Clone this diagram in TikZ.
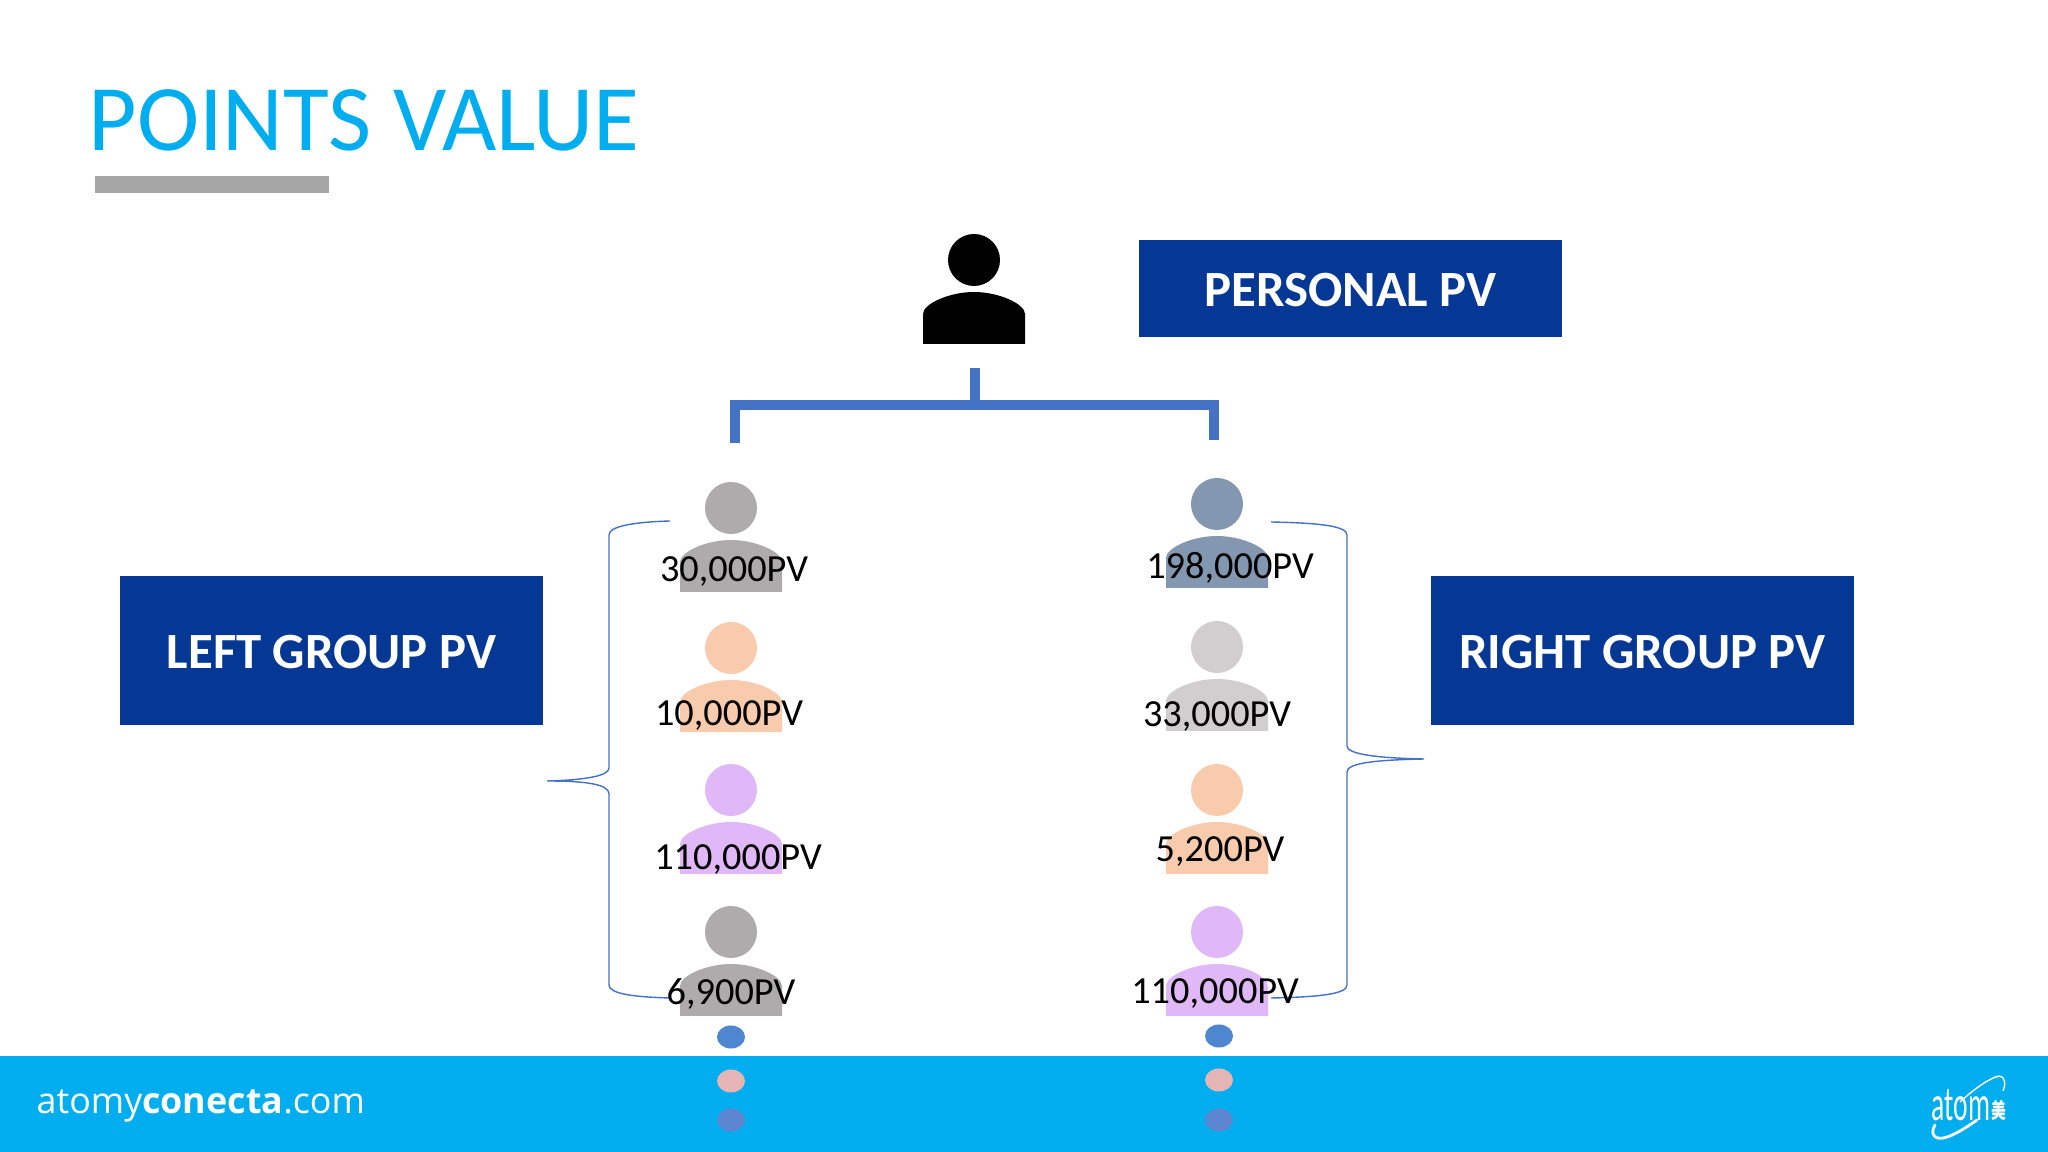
\documentclass[tikz,border=0pt]{standalone}
\usepackage{graphicx}
\usepackage{fontspec}
\setmainfont{Carlito}
\newfontfamily\footfont{Open Sans}
\newfontfamily\cjk{Noto Sans CJK SC}
\definecolor{titleblue}{HTML}{00AEEF}
\definecolor{boxblue}{HTML}{053794}
\definecolor{linkblue}{HTML}{4472C4}
\definecolor{persongrey}{HTML}{ADABAB}
\definecolor{personpeach}{HTML}{F8CBAD}
\definecolor{personlilac}{HTML}{E0B7F7}
\definecolor{personslate}{HTML}{8497B0}
\definecolor{personpale}{HTML}{D0CECE}
\tikzset{
  labelbox/.style={fill=boxblue, text=white, inner sep=0pt, text height=10.5pt, text depth=0pt, font=\fontsize{14.45}{17}\selectfont\bfseries},
  pvlabel/.style={text=black, inner sep=0pt, font=\fontsize{10.9}{13}\selectfont},
  link/.style={draw=linkblue, line width=2.9pt},
  bracket/.style={draw=linkblue, line width=0.4pt},
}
\begin{document}
\begin{tikzpicture}[x=0.1mm, y=-0.1mm]
  \useasboundingbox (0,0) rectangle (2048,1152);
  \fill[white] (0,0) rectangle (2048,1152);

  % Titulo
  \node[anchor=base west, inner sep=0pt, text=titleblue, font=\fontsize{26.7}{30}\selectfont] (title) at (88,151) {POINTS VALUE};
  \fill[black!35] (95,176) rectangle (329,193);

  % Faja inferior
  \fill[titleblue] (0,1056) rectangle (2048,1152);
  \node[anchor=base west, inner sep=0pt, text=white, font=\fontsize{10.2}{12}\footfont] (site) at (36,1113) {atomy\textbf{conecta}.com};

  % Logo
  \node[anchor=base west, inner sep=0pt, text=white, font=\fontsize{14}{16}\selectfont] (logo) at (1931,1120) {\scalebox{0.56}[1]{atom}};
  \node[anchor=base west, inner sep=0pt, text=white, font=\fontsize{6}{7}\cjk\bfseries] (logomei) at (1991,1118) {\scalebox{0.7}[1]{美}};
  \draw[white, line width=0.4pt] (1960,1102) .. controls (1975,1088) and (1990,1078) .. (1999,1076) .. controls (2005,1076) and (2006,1084) .. (2003,1091);
  \draw[white, line width=0.8pt, line cap=round] (1977,1120) .. controls (1960,1132) and (1945,1140) .. (1938,1138) .. controls (1931,1136) and (1932,1130) .. (1935,1125);

  % Cajas
  \node[labelbox, minimum width=42.3mm, minimum height=9.7mm] (personal) at (1350.5,288.5) {PERSONAL PV};
  \node[labelbox, minimum width=42.3mm, minimum height=14.9mm] (leftgroup) at (331.5,650.5) {LEFT GROUP PV};
  \node[labelbox, minimum width=42.3mm, minimum height=14.9mm] (rightgroup) at (1642.5,650.5) {RIGHT GROUP PV};

  % Llaves
  \draw[bracket] (670,521) .. controls (635,522) and (609,526) .. (609,535) -- (609,768) .. controls (609,776) and (585,780) .. (547,781) .. controls (585,781) and (609,784) .. (609,794) -- (609,985) .. controls (609,994) and (635,997) .. (670,998);
  \draw[bracket] (1271,522) .. controls (1320,523) and (1347,526) .. (1347,535) -- (1347,746) .. controls (1347,754) and (1375,758) .. (1424,759) .. controls (1375,760) and (1347,763) .. (1347,772) -- (1347,985) .. controls (1347,994) and (1320,997) .. (1271,998);

  % Personas (x/cabeza/color)
  \foreach \x/\y/\c in {974/260/black, 731/508/persongrey, 731/648/personpeach, 731/790/personlilac, 731/932/persongrey, 1217/504/personslate, 1217/647/personpale, 1217/790/personpeach, 1217/932/personlilac} {
    \fill[\c] (\x,\y) circle [radius=26];
    \fill[\c] (\x-51,\y+84) -- (\x-51,\y+54) .. controls (\x-51,\y+44) and (\x-25,\y+32) .. (\x,\y+32) .. controls (\x+25,\y+32) and (\x+51,\y+44) .. (\x+51,\y+54) -- (\x+51,\y+84) -- cycle;
  }

  % Arbol
  \coordinate (stemtop) at (975,368);
  \coordinate (stemjoin) at (975,405);
  \coordinate (leftdrop) at (735,443);
  \coordinate (rightdrop) at (1214,440);
  \draw[link] (stemtop) -- (stemjoin);
  \draw[link] (leftdrop) |- (stemjoin) -| (rightdrop);

  % Etiquetas PV
  \foreach \name/\x/\y/\t in {a/734/572/{30,000PV}, b/729/716/{10,000PV}, c/738/860/{110,000PV}, d/731/994/{6,900PV}, e/1230/568/{198,000PV}, f/1217/717/{33,000PV}, g/1220/852/{5,200PV}, h/1215/994/{110,000PV}} {
    \node[pvlabel] (pv\name) at (\x,\y) {\t};
  }

  % Puntos
  \foreach \x/\y/\c in {731/1037/4F86D0, 731/1081/E5B4B4, 731/1120/5B85D0, 1219/1036/4F86D0, 1219/1080/E5B4B4, 1219/1120/5B85D0} {
    \definecolor{dotcolor}{HTML}{\c}
    \fill[dotcolor] (\x,\y) ellipse [x radius=14, y radius=11.5];
  }
\end{tikzpicture}
\end{document}
